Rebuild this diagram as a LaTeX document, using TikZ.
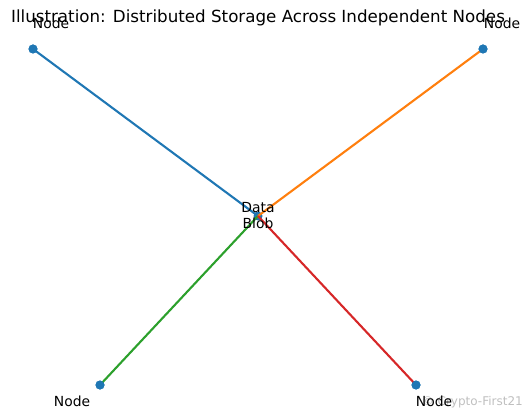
\documentclass[tikz,border=0pt]{standalone}
\usepackage{fontspec}
\setmainfont{DejaVu Sans}
\usepackage{xcolor}
\usetikzlibrary{positioning,calc}

\definecolor{mplblue}{HTML}{1F77B4}
\definecolor{mplorange}{HTML}{FF7F0E}
\definecolor{mplgreen}{HTML}{2CA02C}
\definecolor{mplred}{HTML}{D62728}

\begin{document}
\begin{tikzpicture}[
      x=1pt, y=-1pt,
      dot/.style={circle, fill=mplblue, inner sep=0pt, minimum size=9pt},
      lbl/.style={inner sep=0pt, font=\fontsize{13.9}{16}\selectfont},
      link/.style={line width=2.1pt},
    ]
    \useasboundingbox (0,0) rectangle (529,419);
    \node[inner sep=0pt, font=\fontsize{16.7}{19}\selectfont] (title) at (258,18) {Illustration: Distributed Storage Across Independent Nodes};
    % storage nodes
    \node[dot] (nw) at (33,49) {};
    \node[dot] (ne) at (483,49) {};
    \node[dot] (sw) at (100,385) {};
    \node[dot] (se) at (416,385) {};
    \node[dot] (blob) at (258,216) {};
    % links from the blob
    \draw[link, mplblue] (blob.center) -- (nw.center);
    \draw[link, mplorange] (blob.center) -- (ne.center);
    \draw[link, mplgreen] (blob.center) -- (sw.center);
    \draw[link, mplred] (blob.center) -- (se.center);
    \node[dot] at (nw) {};
    \node[dot] at (ne) {};
    \node[dot] at (sw) {};
    \node[dot] at (se) {};
    % labels
    \node[lbl] (nwlabel) at (51,23) {Node};
    \node[lbl] (nelabel) at (502,23) {Node};
    \node[lbl] (swlabel) at (72,401) {Node};
    \node[lbl, align=center] (bloblabel) at (258,216) {Data\\Blob};
    \node[lbl, text=black!25, anchor=east] (mark) at (523,402) {\fontsize{12}{14}\selectfont © Crypto-First21};
    \node[lbl] (selabel) at (434,401) {Node};
  \end{tikzpicture}
\end{document}
